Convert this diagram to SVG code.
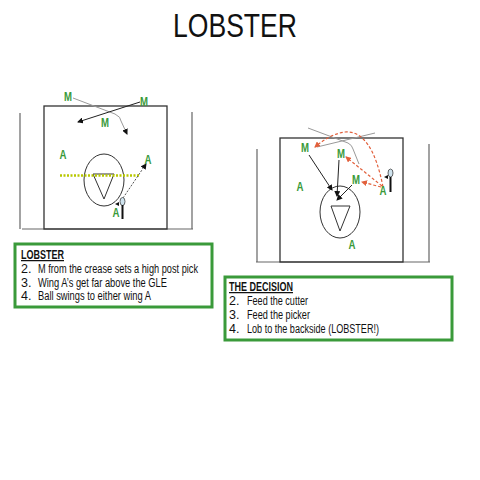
<svg xmlns="http://www.w3.org/2000/svg" width="480" height="480" viewBox="0 0 480 480">
<style>
.lbl{font-family:"Liberation Sans",Arial,sans-serif;font-weight:bold;font-size:12px;fill:#3a9a3a;text-anchor:middle}
.side{stroke:#666;stroke-width:1.2;fill:none}
.field{stroke:#333;stroke-width:1.3;fill:none}
.txt{font-family:"Liberation Sans",Arial,sans-serif;font-size:12.5px;fill:#111}
.gbox{fill:#fff;stroke:#3a9a3a;stroke-width:3}
.blk{stroke:#222;stroke-width:1;fill:none}
.gry{stroke:#999;stroke-width:1;fill:none}
.red{stroke:#e2603c;stroke-width:1.2;fill:none;stroke-dasharray:3,2}
</style>
<defs>
<marker id="ab" markerWidth="6" markerHeight="6" refX="5" refY="3" orient="auto" markerUnits="userSpaceOnUse"><path d="M0,0 L6,3 L0,6 z" fill="#111"/></marker>
<marker id="ar" markerWidth="6" markerHeight="6" refX="5" refY="3" orient="auto" markerUnits="userSpaceOnUse"><path d="M0,0 L6,3 L0,6 z" fill="#e2603c"/></marker>
</defs>
<rect width="480" height="480" fill="#fff"/>
<text x="235" y="37" font-family="Liberation Sans,Arial,sans-serif" font-size="33" text-anchor="middle" textLength="124" lengthAdjust="spacingAndGlyphs" fill="#111">LOBSTER</text>

<!-- left field -->
<g id="left-field">
<path class="side" d="M20,113 V229 M192,112 V229 M22,229 H193"/>
<rect class="field" x="44" y="106" width="123" height="123"/>
<ellipse cx="104" cy="180" rx="20" ry="26" fill="none" stroke="#333" stroke-width="1"/>
<path d="M93,174 H114 L104,199 z" fill="none" stroke="#333" stroke-width="1"/>
<line x1="60" y1="175.5" x2="140" y2="175.5" stroke="#b8c800" stroke-width="2.5" stroke-dasharray="2,1.5"/>
</g>
<g id="left-connectors">
<path class="gry" d="M73,98 L115,114 Q121,117 121,121 L127,134" marker-end="url(#ab)"/>
<path class="blk" d="M140,102 L78,122" marker-end="url(#ab)"/>
<path d="M123,198 L146,164" stroke="#555" stroke-width="1" stroke-dasharray="2,1.5" fill="none" marker-end="url(#ab)"/>
</g>
<g id="left-players">
<text class="lbl" x="68" y="101" textLength="8" lengthAdjust="spacingAndGlyphs">M</text>
<text class="lbl" x="144" y="106" textLength="8" lengthAdjust="spacingAndGlyphs">M</text>
<text class="lbl" x="105" y="127" textLength="8" lengthAdjust="spacingAndGlyphs">M</text>
<text class="lbl" x="63" y="159" textLength="7" lengthAdjust="spacingAndGlyphs">A</text>
<text class="lbl" x="148" y="164" textLength="7" lengthAdjust="spacingAndGlyphs">A</text>
<text class="lbl" x="116" y="217" textLength="7" lengthAdjust="spacingAndGlyphs">A</text>
<ellipse cx="122.5" cy="201.5" rx="2.5" ry="4" fill="#cfe3ee" stroke="#444" stroke-width="0.8"/>
<line x1="122.5" y1="205" x2="122.5" y2="219" stroke="#111" stroke-width="2"/>
<path d="M115,204 L119,202 L119,206 z" fill="#111"/>
</g>

<!-- right field -->
<g id="right-field">
<path class="side" d="M257,149 V262 M429,144 V262 M256,262 H430"/>
<rect class="field" x="280" y="138" width="123" height="124"/>
<ellipse cx="340" cy="212" rx="20" ry="26" fill="none" stroke="#333" stroke-width="1"/>
<path d="M331,206 H350 L340,231 z" fill="none" stroke="#333" stroke-width="1"/>
</g>
<g id="right-connectors">
<path class="gry" d="M308,128 L348,143 Q352,145 353,149 L359,164"/>
<path class="gry" d="M375,133 L317,147"/>
<path class="red" d="M383,187 Q372,130 345,132 Q330,134 315,147" marker-end="url(#ar)"/>
<path class="red" d="M382,186 L346,157" marker-end="url(#ar)"/>
<path class="red" d="M381,187 L362,182" marker-end="url(#ar)"/>
<path class="blk" d="M309,155 L332,190" marker-end="url(#ab)"/>
<path class="blk" d="M339,160 L337,196" marker-end="url(#ab)"/>
<path class="blk" d="M352,185 L337,200" marker-end="url(#ab)"/>
</g>
<g id="right-players">
<text class="lbl" x="305" y="152" textLength="8" lengthAdjust="spacingAndGlyphs">M</text>
<text class="lbl" x="341" y="158" textLength="8" lengthAdjust="spacingAndGlyphs">M</text>
<text class="lbl" x="356" y="184" textLength="8" lengthAdjust="spacingAndGlyphs">M</text>
<text class="lbl" x="300" y="191" textLength="7" lengthAdjust="spacingAndGlyphs">A</text>
<text class="lbl" x="383" y="195" textLength="7" lengthAdjust="spacingAndGlyphs">A</text>
<text class="lbl" x="352" y="249" textLength="7" lengthAdjust="spacingAndGlyphs">A</text>
<ellipse cx="390.5" cy="173" rx="2.5" ry="4" fill="#cfe3ee" stroke="#444" stroke-width="0.8"/>
<line x1="390.5" y1="177" x2="390.5" y2="192" stroke="#111" stroke-width="2"/>
<path d="M384,177 L388,175 L388,179 z" fill="#111"/>
</g>

<g id="lobster-box">
<rect class="gbox" x="15" y="244" width="197" height="63"/>
<text class="txt" x="21" y="259" font-weight="bold" text-decoration="underline" textLength="43" lengthAdjust="spacingAndGlyphs">LOBSTER</text>
<text class="txt" x="21" y="273">2.</text>
<text class="txt" x="38" y="273" textLength="160" lengthAdjust="spacingAndGlyphs">M from the crease sets a high post pick</text>
<text class="txt" x="21" y="287">3.</text>
<text class="txt" x="38" y="287" textLength="129" lengthAdjust="spacingAndGlyphs">Wing A’s get far above the GLE</text>
<text class="txt" x="21" y="300">4.</text>
<text class="txt" x="38" y="300" textLength="113" lengthAdjust="spacingAndGlyphs">Ball swings to either wing A</text>
</g>

<g id="decision-box">
<rect class="gbox" x="225" y="277" width="227" height="63"/>
<text class="txt" x="229" y="291" font-weight="bold" text-decoration="underline" textLength="64" lengthAdjust="spacingAndGlyphs">THE DECISION</text>
<text class="txt" x="229" y="305">2.</text>
<text class="txt" x="247" y="305" textLength="61" lengthAdjust="spacingAndGlyphs">Feed the cutter</text>
<text class="txt" x="229" y="319">3.</text>
<text class="txt" x="247" y="319" textLength="63" lengthAdjust="spacingAndGlyphs">Feed the picker</text>
<text class="txt" x="229" y="333">4.</text>
<text class="txt" x="247" y="333" textLength="132" lengthAdjust="spacingAndGlyphs">Lob to the backside (LOBSTER!)</text>
</g>
</svg>
